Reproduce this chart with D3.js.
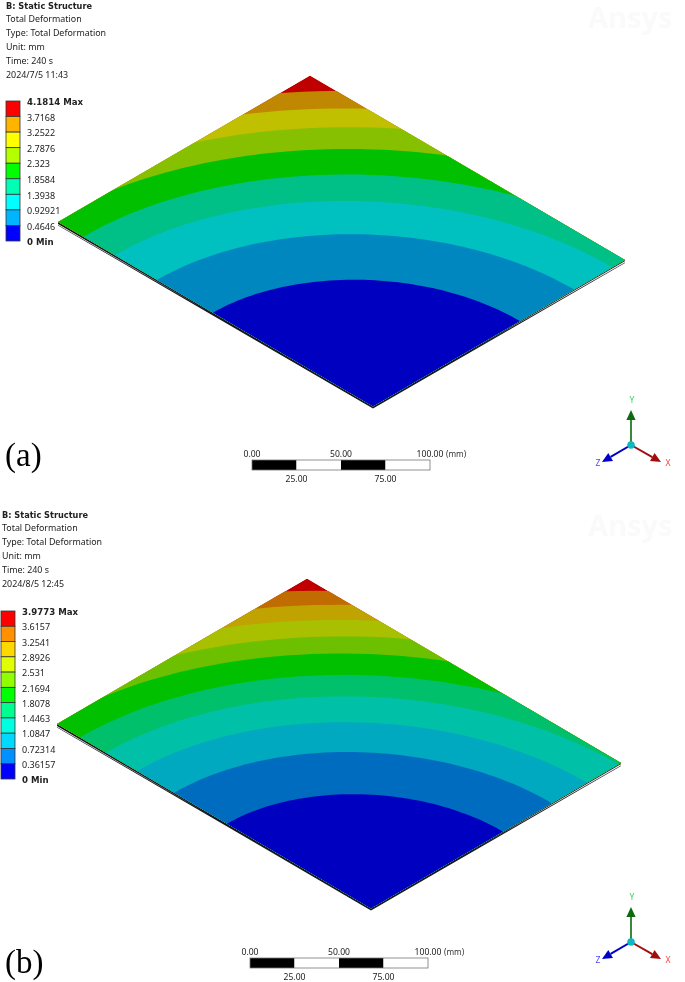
<!DOCTYPE html>
<html><head><meta charset="utf-8">
<script src="https://cdnjs.cloudflare.com/ajax/libs/d3/7.8.5/d3.min.js"></script>
<style>html,body{margin:0;padding:0;background:#fff}svg{display:block}</style>
</head><body><svg id="c" width="685" height="982"></svg>
<script>
// ---------- data ----------
const infoA = ["Total Deformation","Type: Total Deformation","Unit: mm","Time: 240 s","2024/7/5 11:43"];
const infoB = ["Total Deformation","Type: Total Deformation","Unit: mm","Time: 240 s","2024/8/5 12:45"];
const levelsA = ["4.1814 Max","3.7168","3.2522","2.7876","2.323","1.8584","1.3938","0.92921","0.4646","0 Min"];
const levelsB = ["3.9773 Max","3.6157","3.2541","2.8926","2.531","2.1694","1.8078","1.4463","1.0847","0.72314","0.36157","0 Min"];
const legendColorsA = ["#ff0000","#ffb400","#ffff00","#b4ff00","#00ff00","#00ffb4","#00ffff","#00b4ff","#0000ff"];
const legendColorsB = ["#ff0000","#ff9000","#ffd800","#e0ff00","#90ff00","#00ff00","#00ff90","#00ffe0","#00d8ff","#0090ff","#0000ff"];
const plateColorsA = ["#c00000","#c08700","#c0c000","#87c000","#00c000","#00c087","#00c0c0","#0087c0","#0000c0"];
const plateColorsB = ["#c00000","#c06c00","#c0a200","#a8c000","#6cc000","#00c000","#00c06c","#00c0a8","#00a8c0","#006cc0","#0000c0"];
// contour intercepts along the two plate edges (percent of edge), high level to low
const contourUA = [124.3,117.6,109.9,101.7,92,82,68.6,50.8];
const contourVA = [148.1,139.5,131.1,120.4,108,95,79.8,58.3];
const contourUB = [128.2,120.4,114.6,107.6,101.3,92.7,84.4,74.5,62.7,45.9];
const contourVB = [145.7,142.3,135,127.9,119.2,109.4,99,86.4,72.4,52.8];
const barTicks = [0,25,50,75,100];

// ---------- layout ----------
const svg = d3.select("#c");
const defs = svg.append("defs");
defs.append("filter").attr("id","soft")
  .attr("filterUnits","userSpaceOnUse").attr("x",0).attr("y",0).attr("width",685).attr("height",982)
  .append("feGaussianBlur").attr("stdDeviation",0.4);
const root = svg.append("g").attr("filter","url(#soft)");
root.append("rect").attr("width",685).attr("height",982).attr("fill","#fff");
const SANS = "'Noto Sans',sans-serif";
const BOLD = "'DejaVu Sans',sans-serif";

function panel(o){
  const g = root.append("g");
  // plate projection scales
  const xU = d3.scaleLinear().domain([0,100]).range([0,o.L[0]-o.B[0]]);
  const yU = d3.scaleLinear().domain([0,100]).range([0,o.L[1]-o.B[1]]);
  const xV = d3.scaleLinear().domain([0,100]).range([0,o.R[0]-o.B[0]]);
  const yV = d3.scaleLinear().domain([0,100]).range([0,o.R[1]-o.B[1]]);
  const px = d=>o.B[0]+xU(d[0])+xV(d[1]);
  const py = d=>o.B[1]+yU(d[0])+yV(d[1]);
  const line = d3.line().x(px).y(py);
  const plate = [[0,0],[100,0],[100,100],[0,100]];

  // plate thickness
  const L=o.L,B=o.B,R=o.R;
  g.append("path").attr("d",`M${L}L${B}L${R}L${R[0]},${R[1]+3}L${B[0]},${B[1]+2}L${L[0]},${L[1]+3.4}Z`).attr("fill","#15151f");
  const mx=(a,b,t)=>[a[0]+(b[0]-a[0])*t,a[1]+(b[1]-a[1])*t];
  const l1=mx(L,B,.5), r1=mx(R,B,.62);
  g.append("path").attr("d",`M${L[0]},${L[1]+2}L${l1[0]},${l1[1]+1.3}L${L[0]},${L[1]+2.9}Z`).attr("fill","#f0f0f0");
  g.append("path").attr("d",`M${R[0]},${R[1]+1}L${r1[0]},${r1[1]+1}L${R[0]},${R[1]+2.4}Z`).attr("fill","#e8e8e8");

  // plate and contour bands
  const clipId = "clip"+o.id;
  defs.append("clipPath").attr("id",clipId).append("path").attr("d",line(plate)+"Z");
  const bands = g.append("g").attr("clip-path",`url(#${clipId})`);
  bands.append("path").attr("d",line(plate)+"Z").attr("fill",o.plateColors[0]);
  const angles = d3.range(0,91,1.5).map(d=>d*Math.PI/180);
  o.contourU.forEach((a,i)=>{
    const b=o.contourV[i];
    const pts=[[0,0]].concat(angles.map(t=>[a*Math.cos(t),b*Math.sin(t)]));
    bands.append("path").attr("d",line(pts)+"Z").attr("fill",o.plateColors[i+1]);
  });

  // header
  const tx = g.append("g").attr("font-family",SANS).attr("font-size",8.9).attr("fill","#222");
  tx.append("text").attr("x",o.textX).attr("y",o.textY).attr("font-family",BOLD).attr("font-weight",700).attr("font-size",8.2).text("B: Static Structure");
  o.info.forEach((s,i)=>tx.append("text").attr("x",o.textX).attr("y",o.textY+13.8+i*13.9).text(s));

  // legend
  const n=o.legendColors.length;
  const ly=d3.scaleLinear().domain([0,n]).range(o.legendY);
  g.selectAll("rect.sw").data(o.legendColors).join("rect").attr("class","sw")
    .attr("x",o.legendX).attr("width",14).attr("y",(d,i)=>ly(i)).attr("height",(d,i)=>ly(i+1)-ly(i))
    .attr("fill",d=>d).attr("stroke","#333").attr("stroke-width",.8);
  g.selectAll("text.lv").data(o.levels).join("text").attr("class","lv")
    .attr("x",o.legendX+21).attr("y",(d,i)=>ly(i)+4.2)
    .attr("font-family",(d,i)=>(i===0||i===n)?BOLD:SANS).attr("font-size",(d,i)=>(i===0||i===n)?8.6:9).attr("fill","#222")
    .attr("font-weight",(d,i)=>(i===0||i===n)?700:400).text(d=>d);

  // scale bar
  const sx=d3.scaleLinear().domain([0,100]).range(o.bar);
  const by=o.barY;
  const pairs=d3.pairs(barTicks);
  g.selectAll("rect.bar").data(pairs).join("rect").attr("class","bar")
    .attr("x",d=>sx(d[0])).attr("width",d=>sx(d[1])-sx(d[0])).attr("y",by).attr("height",10)
    .attr("fill",(d,i)=>i%2?"#fff":"#000");
  g.append("rect").attr("x",sx(0)).attr("y",by).attr("width",sx(100)-sx(0)).attr("height",10)
    .attr("fill","none").attr("stroke","#777").attr("stroke-width",.8);
  g.selectAll("text.bt").data(barTicks).join("text").attr("class","bt")
    .attr("x",d=>sx(d)).attr("y",(d,i)=>i%2?by+22:by-3.5).attr("text-anchor","middle")
    .attr("font-family",SANS).attr("font-size",8.6).attr("fill","#222").text(d=>d.toFixed(2));
  g.append("text").attr("x",sx(100)+16).attr("y",by-3.5).attr("font-family",SANS).attr("font-size",8.2).attr("fill","#333").text("(mm)");

  // triad
  const [ox,oy]=o.triad;
  const arrow=(dx,dy,col,w)=>{
    const tip=[ox+dx,oy+dy], len=Math.hypot(dx,dy), ux=dx/len, uy=dy/len, nx=-uy, ny=ux, h=10, r=4.6;
    const base=[tip[0]-ux*h,tip[1]-uy*h];
    g.append("line").attr("x1",ox).attr("y1",oy).attr("x2",base[0]).attr("y2",base[1]).attr("stroke",col).attr("stroke-width",w);
    g.append("path").attr("d",`M${tip}L${base[0]+nx*r},${base[1]+ny*r}L${base[0]-nx*r},${base[1]-ny*r}Z`).attr("fill",col);
  };
  arrow(0,-35,"#0a6a0a",1.6);
  arrow(-29,17,"#0000c8",2);
  arrow(30,17,"#a01010",2);
  g.append("circle").attr("cx",ox).attr("cy",oy).attr("r",3.8).attr("fill","#10b8c0");
  const lab=(s,dx,dy,c)=>g.append("text").attr("x",ox+dx).attr("y",oy+dy).attr("text-anchor","middle").attr("font-family",SANS).attr("font-size",8.6).attr("fill",c).text(s);
  lab("Y",1,-42,"#3fcf5f"); lab("Z",-33,20.5,"#4a4aff"); lab("X",37,20.5,"#ff4040");

  // watermark
  g.append("text").attr("x",o.markX).attr("y",o.markY).attr("font-family","'Open Sans',sans-serif").attr("font-weight",700).attr("font-size",29).attr("fill","#fafafa").text("Ansys");
  // panel tag
  g.append("text").attr("x",5).attr("y",o.tagY).attr("font-family","'Liberation Serif',serif").attr("font-size",33).attr("fill","#000").text(o.tag);
}

panel({id:"a",tag:"(a)",tagY:466,L:[58,222],B:[373,406.5],R:[625,260],
  contourU:contourUA,contourV:contourVA,plateColors:plateColorsA,legendColors:legendColorsA,levels:levelsA,info:infoA,
  textX:6,textY:8.5,legendX:6,legendY:[101,241],bar:[252,430],barY:460,triad:[631,445],markX:588,markY:28});
panel({id:"b",tag:"(b)",tagY:973,L:[57,724],B:[371,908.5],R:[621,763],
  contourU:contourUB,contourV:contourVB,plateColors:plateColorsB,legendColors:legendColorsB,levels:levelsB,info:infoB,
  textX:2,textY:517.5,legendX:1,legendY:[611,779],bar:[250,428],barY:958,triad:[631,942],markX:588,markY:536});
</script></body></html>
